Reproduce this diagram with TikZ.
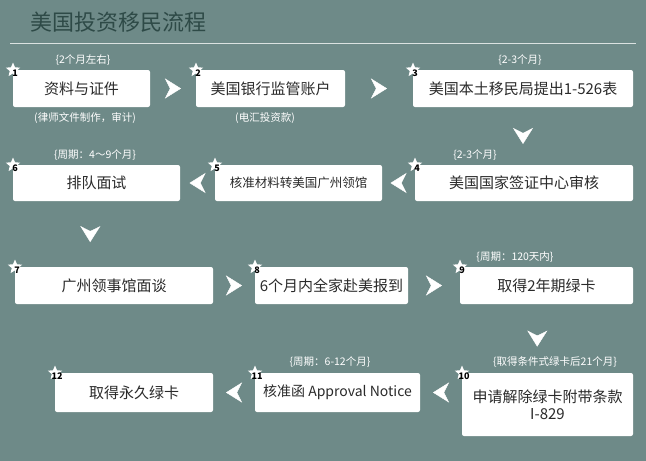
\documentclass[tikz,border=0pt]{standalone}
\usepackage{fontspec}
\setmainfont{Noto Sans CJK SC}
\usetikzlibrary{shapes.geometric,decorations.markings,arrows.meta}
\definecolor{bgcol}{HTML}{6E8A88}
\definecolor{titlecol}{HTML}{2E4A47}
\definecolor{textcol}{HTML}{2A2A2A}
\tikzset{
  stepbox/.style={fill=white,rounded corners=2pt,text=textcol,font=\fontsize{15}{17}\selectfont,align=center,inner sep=0pt},
  note/.style={text=white,font=\fontsize{10.5}{12}\selectfont},
  badge/.style={star,star points=5,star point ratio=2.2,fill=white,inner sep=0pt,minimum size=15pt},
  chev/.style={postaction={decorate},decoration={markings,mark=at position 0.5 with {\arrow[white,xshift=8pt]{Stealth[length=16pt,width=20pt,inset=5pt]}}}}
}
\newcommand{\stepnode}[6]{% name, number, x1, y1, x2, y2
  \node[stepbox,minimum width={#5-#3},minimum height={#6-#4}] (#1) at ({(#3+#5)/2},{(#4+#6)/2}) {};
  \node[badge] (#1n) at (#3,#4) {};
  \node[font=\fontsize{9}{9}\selectfont\bfseries,text=black] at (#3+2,#4+3) {#2};
}
\begin{document}
\begin{tikzpicture}[x=1pt,y=-1pt]
\fill[bgcol] (0,0) rectangle (646,461);
\useasboundingbox (0,0) rectangle (646,461);
\node[anchor=west,text=titlecol,font=\fontsize{22}{24}\selectfont] (title) at (27,22) {美国投资移民流程};
\draw[white!75!bgcol,line width=1pt] (10,43) -- (636,43);

% row 1
\stepnode{b1}{1}{13}{70}{150}{107}
\node[stepbox] at (b1) {资料与证件};
\node[note] at (83,60) {\{2个月左右\}};
\node[note] at (85,118) {(律师文件制作，审计)};
\stepnode{b2}{2}{196}{70}{345}{107}
\node[stepbox] at (b2) {美国银行监管账户};
\node[note] at (265,118) {(电汇投资款)};
\stepnode{b3}{3}{413}{70}{633}{107}
\node[stepbox] at (b3) {美国本土移民局提出1-526表};
\node[note] at (520,60) {\{2-3个月\}};

% row 2
\stepnode{b4}{4}{415}{165}{633}{201}
\node[stepbox] at (b4) {美国国家签证中心审核};
\node[note] at (475,155) {\{2-3个月\}};
\stepnode{b5}{5}{215}{165}{382}{201}
\node[stepbox,font=\fontsize{12.5}{14}\selectfont] at (b5) {核准材料转美国广州领馆};
\stepnode{b6}{6}{13}{165}{180}{201}
\node[stepbox] at (b6) {排队面试};
\node[note] at (95,155) {\{周期：4～9个月\}};

% row 3
\stepnode{b7}{7}{15}{267}{213}{304}
\node[stepbox] at (b7) {广州领事馆面谈};
\stepnode{b8}{8}{255}{267}{408}{304}
\node[stepbox] at (b8) {6个月内全家赴美报到};
\stepnode{b9}{9}{460}{267}{633}{304}
\node[stepbox] at (b9) {取得2年期绿卡};
\node[note] at (515,257) {\{周期：120天内\}};

% row 4
\stepnode{b10}{10}{462}{373}{633}{436}
\node[stepbox] at (b10) {申请解除绿卡附带条款\\I-829};
\node[note] at (555,362) {\{取得条件式绿卡后21个月\}};
\stepnode{b11}{11}{255}{373}{420}{412}
\node[stepbox,font=\fontsize{14}{16}\selectfont] at (b11) {核准函 Approval Notice};
\node[note] at (330,362) {\{周期：6-12个月\}};
\stepnode{b12}{12}{55}{373}{213}{412}
\node[stepbox] at (b12) {取得永久绿卡};

% arrows
\path[chev] (b1) -- (b2);
\path[chev] (b2) -- (b3);
\path[chev] (b3.south) -- (b3.south |- b4.north);
\path[chev] (b4) -- (b5);
\path[chev] (b5) -- (b6);
\path[chev] (b6.south) ++(-6,0) -- (90,267);
\path[chev] (b7) -- (b8);
\path[chev] (b8) -- (b9);
\path[chev] (b9.south) ++(-9,0) -- (537,373);
\path[chev] (b10.west |- b11) -- (b11);
\path[chev] (b11) -- (b12);
\end{tikzpicture}
\end{document}
